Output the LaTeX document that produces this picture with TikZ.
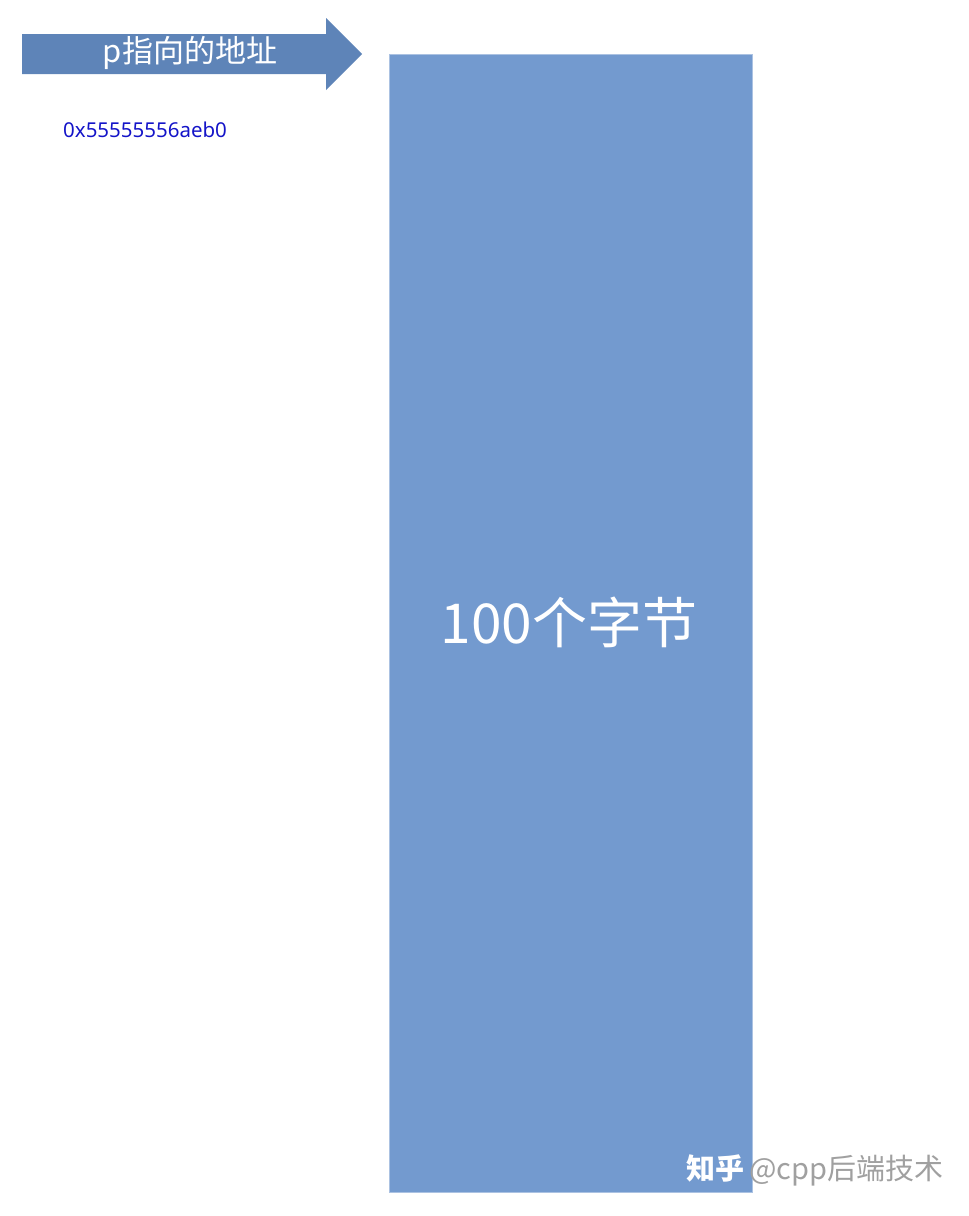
\documentclass[tikz,border=0pt]{standalone}
\usepackage{fontspec}
\setmainfont{Noto Sans}
\newfontfamily\cjk{Noto Sans CJK SC}
\definecolor{arrowblue}{RGB}{94,132,184}
\definecolor{boxblue}{RGB}{115,154,207}
\definecolor{addrblue}{RGB}{20,20,200}
\definecolor{wmgray}{RGB}{160,160,160}
\tikzset{
  ptrlabel/.style={text=white, inner sep=0pt, font=\cjk\fontsize{31}{34}\selectfont},
  mem/.style={fill=boxblue, draw=boxblue!60!white, line width=0.6pt, inner sep=0pt},
  memlabel/.style={text=white, inner sep=0pt, font=\cjk\fontsize{55}{60}\selectfont},
  addr/.style={text=addrblue, font=\fontsize{20.5}{24}\selectfont, anchor=west, inner sep=0pt},
}
\begin{document}
\begin{tikzpicture}[x=1pt,y=-1pt]
\useasboundingbox (0,0) rectangle (969,1216);
\fill[arrowblue] (22,34) -- (326,34) -- (326,18) -- (362,54) -- (326,90) -- (326,74) -- (22,74) -- cycle;
\node[ptrlabel] (arrow) at (190,53) {p指向的地址};
\node[mem, minimum width=363pt, minimum height=1138pt] (block) at (570.5,623) {};
\node[memlabel] (lbl) at (569,622) {100个字节};
\node[addr] (addr) at (63,130) {0x55555556aeb0};
\node[anchor=west, inner sep=0pt, font=\cjk\fontsize{29}{32}\selectfont] (wm) at (686,1170)
  {\textcolor{white}{\bfseries 知乎}\,\textcolor{wmgray}{@cpp后端技术}};
\end{tikzpicture}
\end{document}
